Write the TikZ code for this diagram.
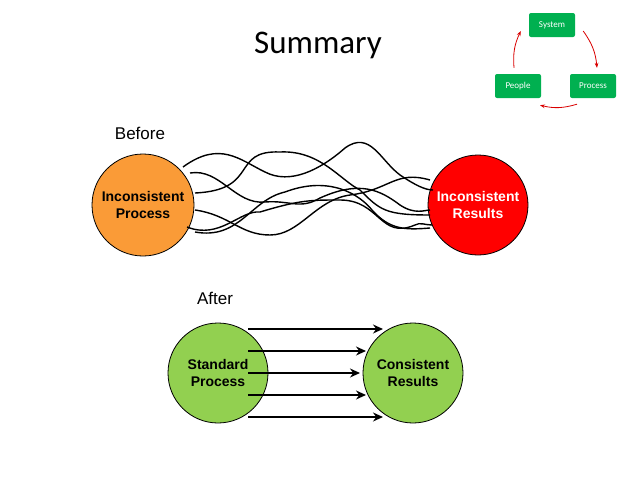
\documentclass[tikz,border=0pt]{standalone}
\usepackage{fontspec}
\setmainfont{Liberation Sans}
\newfontfamily\calibri{Carlito}
\usetikzlibrary{arrows.meta,calc}
\begin{document}
\begin{tikzpicture}[x=1pt,y=-1pt,
    blob/.style={circle,draw=black,thick,minimum size=102pt,font=\bfseries\fontsize{14}{17}\selectfont,align=center},
    cyc/.style={fill=ciGreen,rounded corners=2pt,minimum width=46pt,minimum height=24pt,text=white,font=\calibri\fontsize{9}{11}\selectfont},
    wire/.style={line width=1.4pt},
    flow/.style={line width=1.4pt,-{Stealth[length=10pt,width=9pt]}}]

    % Colors
    \definecolor{ciOrange}{RGB}{250,155,55}
    \definecolor{ciRed}{RGB}{255,0,0}
    \definecolor{ciGreen}{RGB}{0,176,80}
    \definecolor{ciLime}{RGB}{146,208,80}

    \useasboundingbox (0,0) rectangle (638,479);

    \node[font=\calibri\fontsize{33}{38}\selectfont] (title) at (318,45) {Summary};

    % Cycle
    \node[cyc] (sys) at (552,25) {System};
    \node[cyc] (ppl) at (518,86) {People};
    \node[cyc] (prc) at (593,86) {Process};
    \draw[red!85!black,thick,-{Stealth[length=5pt]}] ($(ppl.north)+(-4,-6)$) to[bend left=15] ($(sys.west)+(-8,6)$);
    \draw[red!85!black,thick,-{Stealth[length=5pt]}] ($(sys.east)+(8,6)$) to[bend left=15] ($(prc.north)+(4,-6)$);
    \draw[red!85!black,thick,-{Stealth[length=5pt]}] ($(prc.south)+(-16,6)$) to[bend left=15] ($(ppl.south)+(22,7)$);

    % Before
    \node[font=\fontsize{17}{20}\selectfont] (before) at (140,133) {Before};
    \node[blob,fill=ciOrange] (ip) at (143,205) {Inconsistent\\Process};
    \node[blob,fill=ciRed,text=white,minimum size=100pt] (ir) at (478,205) {Inconsistent\\Results};
    \draw[wire] (183,167) .. controls (220,140) and (240,160) .. (265,172) .. controls (290,185) and (320,170) .. (345,148) .. controls (370,130) and (380,160) .. (400,175) .. controls (415,185) and (425,190) .. (433,190);
    \draw[wire] (190,173) .. controls (220,168) and (235,205) .. (265,202) .. controls (290,200) and (300,210) .. (320,198) .. controls (360,180) and (380,190) .. (400,205) .. controls (415,215) and (425,210) .. (430,210);
    \draw[wire] (195,193) .. controls (260,190) and (230,150) .. (280,152) .. controls (320,150) and (340,180) .. (360,190) .. controls (380,210) and (385,215) .. (430,215);
    \draw[wire] (195,210) .. controls (230,215) and (240,235) .. (270,235) .. controls (300,235) and (315,200) .. (350,195) .. controls (390,190) and (395,170) .. (430,180);
    \draw[wire] (187,227) .. controls (220,240) and (240,210) .. (260,212) .. controls (300,200) and (310,200) .. (340,200) .. controls (380,200) and (380,240) .. (415,225) .. controls (420,222) and (425,225) .. (432,225);
    \draw[wire] (195,232) .. controls (240,240) and (250,200) .. (285,192) .. controls (330,175) and (360,195) .. (372,210) .. controls (390,230) and (405,230) .. (430,228);

    % After
    \node[font=\fontsize{17}{20}\selectfont] (after) at (215,298) {After};
    \node[blob,fill=ciLime,minimum size=100pt] (sp) at (218,373) {Standard\\Process};
    \node[blob,fill=ciLime,minimum size=100pt] (cr) at (413,373) {Consistent\\Results};
    \foreach \dy/\x in {-44/30,-22/47,0/53,22/47,44/30}
        \draw[flow] ($(sp.center)+(30,\dy)$) -- ($(cr.center)+(-\x,\dy)$);

\end{tikzpicture}
\end{document}
